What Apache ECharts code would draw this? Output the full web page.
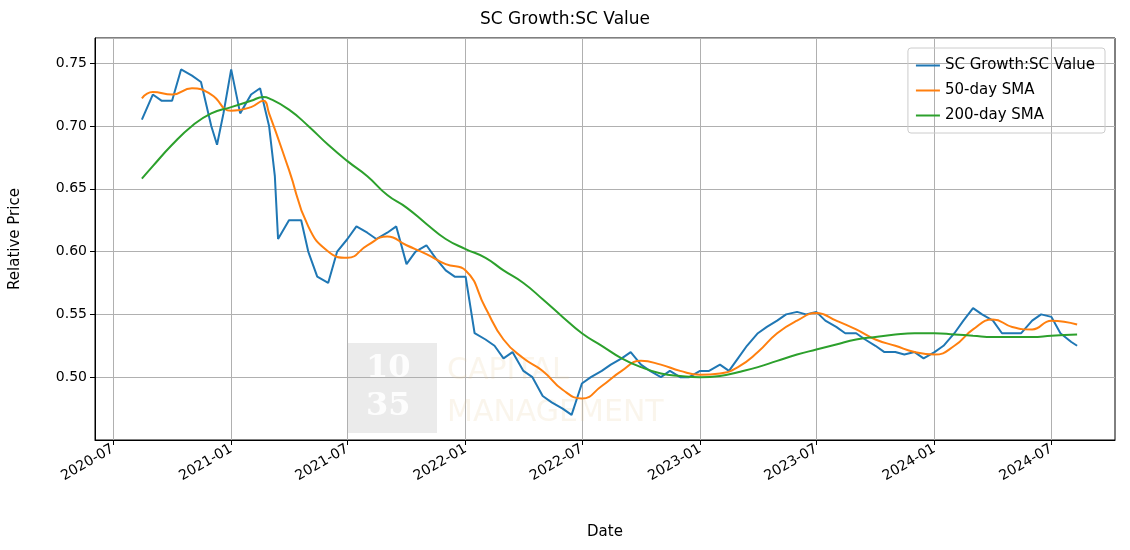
<!DOCTYPE html>
<html>
<head>
<meta charset="utf-8">
<script src="https://cdn.jsdelivr.net/npm/echarts@6/dist/echarts.min.js"></script>
<style>html,body{margin:0;padding:0;background:#fff}#chart{width:1130px;height:550px}</style>
</head>
<body>
<div id="chart"></div>
<script>
// SC Growth:SC Value ratio (semi-monthly)
const ratioDates = ['2020-08-15','2020-09-01','2020-09-15','2020-10-01','2020-10-15','2020-11-01','2020-11-15','2020-12-01','2020-12-10','2020-12-20','2021-01-01','2021-01-15','2021-02-01','2021-02-15','2021-03-01','2021-03-10','2021-03-15','2021-04-01','2021-04-20','2021-05-01','2021-05-15','2021-06-01','2021-06-15','2021-07-01','2021-07-15','2021-08-01','2021-08-15','2021-09-01','2021-09-15','2021-10-01','2021-10-15','2021-11-01','2021-11-15','2021-12-01','2021-12-15','2022-01-01','2022-01-15','2022-02-01','2022-02-15','2022-03-01','2022-03-15','2022-04-01','2022-04-15','2022-05-01','2022-05-15','2022-06-01','2022-06-15','2022-07-01','2022-07-15','2022-08-01','2022-08-15','2022-09-01','2022-09-15','2022-10-01','2022-10-15','2022-11-01','2022-11-15','2022-12-01','2022-12-15','2023-01-01','2023-01-15','2023-02-01','2023-02-15','2023-03-01','2023-03-15','2023-04-01','2023-04-15','2023-05-01','2023-05-15','2023-06-01','2023-06-15','2023-07-01','2023-07-15','2023-08-01','2023-08-15','2023-09-01','2023-09-15','2023-10-01','2023-10-15','2023-11-01','2023-11-15','2023-12-01','2023-12-15','2024-01-01','2024-01-15','2024-02-01','2024-02-15','2024-03-01','2024-03-15','2024-04-01','2024-04-15','2024-05-01','2024-05-15','2024-06-01','2024-06-15','2024-07-01','2024-07-15','2024-08-01','2024-08-10'];
const ratioValues = [0.705,0.725,0.72,0.72,0.745,0.74,0.735,0.70,0.685,0.71,0.745,0.71,0.725,0.73,0.70,0.66,0.61,0.625,0.625,0.60,0.58,0.575,0.60,0.61,0.62,0.615,0.61,0.615,0.62,0.59,0.60,0.605,0.595,0.585,0.58,0.58,0.535,0.53,0.525,0.515,0.52,0.505,0.50,0.485,0.48,0.475,0.47,0.495,0.50,0.505,0.51,0.515,0.52,0.51,0.505,0.50,0.505,0.50,0.50,0.505,0.505,0.51,0.505,0.515,0.525,0.535,0.54,0.545,0.55,0.552,0.55,0.552,0.545,0.54,0.535,0.535,0.53,0.525,0.52,0.52,0.518,0.52,0.515,0.52,0.525,0.535,0.545,0.555,0.55,0.545,0.535,0.535,0.535,0.545,0.55,0.548,0.535,0.528,0.525];

const smaDates = ['2020-08-15','2020-09-01','2020-10-01','2020-11-01','2020-12-01','2021-01-01','2021-02-01','2021-02-20','2021-03-01','2021-04-01','2021-05-01','2021-06-01','2021-07-01','2021-08-01','2021-09-01','2021-10-01','2021-11-01','2021-12-01','2022-01-01','2022-02-01','2022-03-01','2022-04-01','2022-05-01','2022-06-01','2022-07-01','2022-08-01','2022-09-01','2022-10-01','2022-11-01','2022-12-01','2023-01-01','2023-02-01','2023-03-01','2023-04-01','2023-05-01','2023-06-01','2023-07-01','2023-08-01','2023-09-01','2023-10-01','2023-11-01','2023-12-01','2024-01-01','2024-02-01','2024-03-01','2024-04-01','2024-05-01','2024-06-01','2024-07-01','2024-08-10'];
const sma50 = [0.722,0.727,0.725,0.73,0.725,0.712,0.715,0.72,0.71,0.665,0.62,0.60,0.595,0.605,0.612,0.605,0.598,0.59,0.585,0.555,0.53,0.515,0.505,0.49,0.483,0.493,0.505,0.513,0.51,0.505,0.502,0.503,0.508,0.52,0.535,0.545,0.551,0.545,0.538,0.53,0.525,0.52,0.518,0.525,0.538,0.546,0.54,0.538,0.545,0.542];
const sma200 = [0.658,0.668,0.685,0.70,0.71,0.715,0.72,0.723,0.722,0.713,0.70,0.685,0.672,0.66,0.645,0.635,0.622,0.61,0.602,0.595,0.585,0.575,0.562,0.548,0.535,0.525,0.515,0.508,0.503,0.501,0.50,0.501,0.504,0.508,0.513,0.518,0.522,0.526,0.53,0.532,0.534,0.535,0.535,0.534,0.533,0.532,0.532,0.532,0.533,0.534];

const xTicks = ['2020-07-01','2021-01-01','2021-07-01','2022-01-01','2022-07-01','2023-01-01','2023-07-01','2024-01-01','2024-07-01'];

const ts = s => Date.parse(s + 'T00:00:00Z');
const zip = (d, v) => d.map((x, i) => [ts(x), v[i]]);
const tickTs = xTicks.map(ts);
const fmtMonth = v => {
    const d = new Date(v);
    return d.getUTCFullYear() + '-' + String(d.getUTCMonth() + 1).padStart(2, '0');
};

let myChart = echarts.init(document.getElementById('chart'));
let option = {
    animation: false,
    textStyle: {fontFamily: 'DejaVu Sans'},
    title: {
        text: 'SC Growth:SC Value', left: 'center', top: 6,
        textStyle: {fontSize: 17, fontWeight: 'normal', color: '#000'}
    },
    grid: {left: 95, right: 15, top: 38, bottom: 110, show: true, borderColor: '#000', borderWidth: 1},
    legend: {
        orient: 'vertical', right: 25, top: 48,
        itemWidth: 24, itemHeight: 2, itemGap: 10,
        icon: 'rect', padding: [10, 10, 10, 8],
        borderColor: '#ccc', borderWidth: 1, borderRadius: 3,
        textStyle: {fontSize: 15, color: '#000'},
        data: ['SC Growth:SC Value', '50-day SMA', '200-day SMA']
    },
    xAxis: {
        type: 'value',
        min: ts('2020-06-03'), max: ts('2024-10-08'),
        name: 'Date', nameLocation: 'middle', nameGap: 85,
        nameTextStyle: {fontSize: 15, color: '#000'},
        axisLine: {onZero: false, lineStyle: {color: '#000'}},
        axisTick: {customValues: tickTs, length: 5, lineStyle: {color: '#000'}},
        axisLabel: {customValues: tickTs, rotate: 30, fontSize: 14, color: '#000', formatter: fmtMonth},
        splitLine: {show: true, lineStyle: {color: '#b0b0b0'}}
    },
    yAxis: {
        type: 'value', min: 0.45, max: 0.77, interval: 0.05,
        name: 'Relative Price', nameLocation: 'middle', nameGap: 72,
        nameTextStyle: {fontSize: 15, color: '#000'},
        axisLine: {show: true, lineStyle: {color: '#000'}},
        axisTick: {show: true, length: 5, lineStyle: {color: '#000'}},
        axisLabel: {
            fontSize: 14, color: '#000', showMaxLabel: false, showMinLabel: false,
            formatter: v => v.toFixed(2)
        },
        splitLine: {show: true, lineStyle: {color: '#b0b0b0'}}
    },
    graphic: [
        {type: 'rect', left: 347, top: 343, shape: {width: 90, height: 90}, style: {fill: 'rgba(0,0,0,0.08)'}, z: 0},
        {type: 'text', left: 366, top: 350, style: {text: '10\n35', font: 'bold 32px "DejaVu Serif"', fill: 'rgba(255,255,255,0.9)', lineHeight: 38}, z: 1},
        {type: 'text', left: 447, top: 350, style: {text: 'CAPITAL\nMANAGEMENT', font: '30px "DejaVu Sans"', fill: 'rgba(230,200,150,0.18)', lineHeight: 42}, z: 1}
    ],
    series: [
        {name: 'SC Growth:SC Value', type: 'line', showSymbol: false, data: zip(ratioDates, ratioValues), color: '#1f77b4', lineStyle: {width: 2}},
        {name: '50-day SMA', type: 'line', showSymbol: false, smooth: true, data: zip(smaDates, sma50), color: '#ff7f0e', lineStyle: {width: 2}},
        {name: '200-day SMA', type: 'line', showSymbol: false, smooth: true, data: zip(smaDates, sma200), color: '#2ca02c', lineStyle: {width: 2}}
    ]
};
myChart.setOption(option);
</script>
</body>
</html>
